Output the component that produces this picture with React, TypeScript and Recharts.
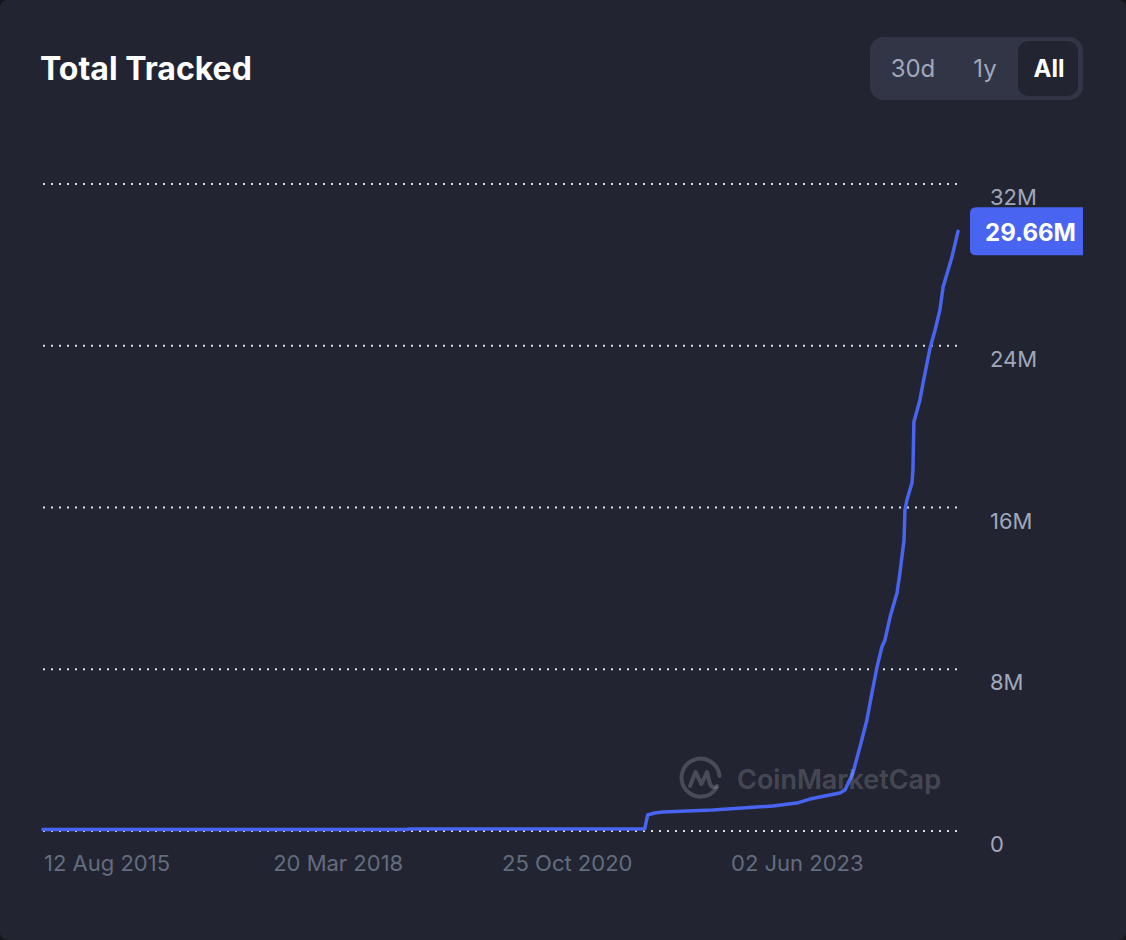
import React from 'react';
import { LineChart, Line, XAxis, YAxis, CartesianGrid, ReferenceLine } from 'recharts';

const dates = [
  '2015-08-12', '2019-09-28', '2019-10-10', '2022-06-13', '2022-06-25', '2022-07-24', '2022-08-27',
  '2023-03-22', '2023-11-27', '2024-03-05', '2024-04-28', '2024-08-31', '2024-09-21',
  '2024-10-24', '2024-11-22', '2024-12-21', '2025-01-11', '2025-02-01', '2025-02-21',
  '2025-03-06', '2025-03-27', '2025-04-08', '2025-04-25', '2025-05-07', '2025-05-24',
  '2025-05-28', '2025-06-05', '2025-06-26', '2025-06-30', '2025-07-04', '2025-07-29',
  '2025-08-11', '2025-09-09', '2025-09-30', '2025-10-20', '2025-11-02', '2025-12-09', '2026-01-03',
];
const totals = [
  0.07, 0.07, 0.1, 0.1, 0.79, 0.89, 0.94,
  1.04, 1.24, 1.38, 1.58, 1.88, 2.03,
  2.87, 4.15, 5.49, 6.83, 8.11, 9.1,
  9.45, 10.58, 11.08, 11.77, 12.76, 14.39,
  15.88, 16.37, 17.21, 17.86, 20.23, 21.32,
  22.16, 23.89, 24.78, 25.77, 26.91, 28.39, 29.66,
];
const xTickDates = ['2015-08-12', '2018-03-20', '2020-10-25', '2023-06-02'];
const xTickLabels = ['12 Aug 2015', '20 Mar 2018', '25 Oct 2020', '02 Jun 2023'];
const yTicks = [0, 8, 16, 24, 32];
const yTickLabels = ['0', '8M', '16M', '24M', '32M'];
const lastValue = 29.66;
const lastLabel = '29.66M';
const ranges = ['30d', '1y', 'All'];

const data = dates.map((d, i) => ({ t: Date.parse(d), v: totals[i] }));
const xTicks = xTickDates.map((d) => Date.parse(d));

const FONT = 'Inter, "Noto Sans", sans-serif';

const XTick = (props: any) => {
  const { x, y, payload } = props;
  const idx = xTicks.indexOf(payload.value);
  return (
    <text x={x + 1} y={y + 40} textAnchor="start" fill="#646c7f" fontSize={22} fontFamily={FONT}>
      {xTickLabels[idx]}
    </text>
  );
};

const YTick = (props: any) => {
  const { x, y, payload } = props;
  const idx = yTicks.indexOf(payload.value);
  return (
    <text x={x + 32} y={y + 21} textAnchor="start" fill="#a1a7bb" fontSize={22} fontFamily={FONT}>
      {yTickLabels[idx]}
    </text>
  );
};

const Badge = (props: any) => {
  const { viewBox } = props;
  const right = viewBox.x + viewBox.width;
  const bx = right + 12;
  const by = viewBox.y - 24;
  const w = 113;
  const h = 48;
  const r = 6;
  const d = `M${bx + r},${by} L${bx + w},${by} L${bx + w},${by + h} L${bx + r},${by + h} Q${bx},${by + h} ${bx},${by + h - r} L${bx},${by + r} Q${bx},${by} ${bx + r},${by} Z`;
  return (
    <g>
      <path d={d} fill="#4864f0" />
      <text x={bx + w / 2 + 4} y={by + h / 2 + 1} textAnchor="middle" dominantBaseline="central" fill="#ffffff" fontSize={24} fontWeight={700} fontFamily={FONT}>
        {lastLabel}
      </text>
    </g>
  );
};

export default function App() {
  return (
    <div style={{ position: 'fixed', left: 0, top: 0, width: 1126, height: 940, background: '#16171d', fontFamily: FONT }}>
      <div style={{ position: 'absolute', left: 0, top: 0, width: 1126, height: 940, background: '#222531', borderRadius: 8, overflow: 'hidden' }}>
        <div style={{ position: 'absolute', left: 40, top: 49, color: '#ffffff', fontSize: 32, fontWeight: 700, lineHeight: '40px', letterSpacing: 0 }}>
          Total Tracked
        </div>
        <div style={{ position: 'absolute', left: 870, top: 37, width: 213, height: 63, background: '#323546', borderRadius: 14 }}>
          <div style={{ position: 'absolute', left: 148, top: 4, width: 60, height: 55, background: '#222531', borderRadius: 10 }} />
          {ranges.map((r, i) => {
            const centers = [43, 115, 179];
            const active = i === ranges.length - 1;
            return (
              <div key={r} style={{ position: 'absolute', left: centers[i] - 40, width: 80, top: 0, height: 63, lineHeight: '63px', textAlign: 'center', fontSize: 24, fontWeight: active ? 700 : 400, color: active ? '#ffffff' : '#a1a7bb' }}>
                {r}
              </div>
            );
          })}
        </div>
        <div style={{ position: 'absolute', left: 0, top: 0 }}>
          <LineChart width={1126} height={940} data={data} margin={{ top: 184, left: 43, right: 68, bottom: 49 }}>
            <CartesianGrid vertical={false} stroke="#ffffff" strokeOpacity={0.85} strokeWidth={2} strokeDasharray="2 6" />
            <XAxis
              dataKey="t"
              type="number"
              scale="time"
              domain={[Date.parse('2015-08-12'), Date.parse('2026-01-03')]}
              ticks={xTicks}
              tick={<XTick />}
              tickLine={false}
              axisLine={false}
              tickSize={0}
              tickMargin={0}
              height={60}
              interval={0}
            />
            <YAxis
              orientation="right"
              domain={[0, 32]}
              ticks={yTicks}
              tick={<YTick />}
              tickLine={false}
              axisLine={false}
              tickSize={0}
              tickMargin={0}
              width={100}
              interval={0}
            />
            <Line type="linear" dataKey="v" stroke="#4864f0" strokeWidth={3.5} dot={false} isAnimationActive={false} strokeLinejoin="round" strokeLinecap="round" />
            <ReferenceLine y={lastValue} stroke="none" label={<Badge />} ifOverflow="visible" />
          </LineChart>
        </div>
        <div style={{ position: 'absolute', left: 679, top: 756, height: 46, display: 'flex', alignItems: 'center', pointerEvents: 'none' }}>
          <svg width={46} height={46} viewBox="0 0 46 46">
            <path d="M37.5,32 A19,19 0 1 1 40.5,20" fill="none" stroke="rgba(255,255,255,0.18)" strokeWidth={4} strokeLinecap="round" />
            <path d="M11,30 L16.5,16 L22.5,28 L28,16 L31,28 Q33,33 38,30" fill="none" stroke="rgba(255,255,255,0.18)" strokeWidth={4} strokeLinecap="round" strokeLinejoin="round" />
          </svg>
          <span style={{ marginLeft: 12, fontSize: 27, fontWeight: 600, color: 'rgba(255,255,255,0.18)', letterSpacing: 0 }}>CoinMarketCap</span>
        </div>
      </div>
    </div>
  );
}
